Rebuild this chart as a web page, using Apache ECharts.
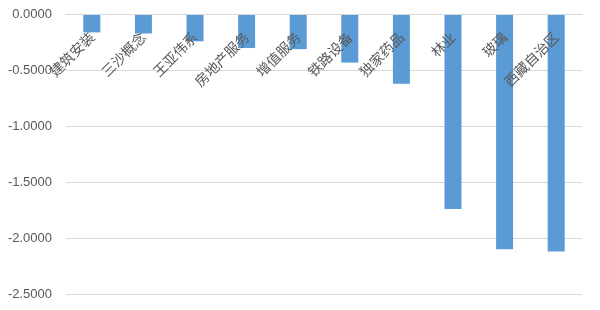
<!DOCTYPE html>
<html><head><meta charset="utf-8">
<script src="https://cdn.jsdelivr.net/npm/echarts@6/dist/echarts.min.js"></script>
<style>html,body{margin:0;padding:0;background:#fff}#c{width:600px;height:310px}</style>
</head><body><div id="c"></div>
<script>
var categories = ['建筑安装','三沙概念','王亚伟系','房地产服务','增值服务','铁路设备','独家药品','林业','玻璃','西藏自治区'];
var values = [-0.16,-0.17,-0.24,-0.30,-0.31,-0.43,-0.62,-1.74,-2.10,-2.12];
var chart = echarts.init(document.getElementById('c'));
chart.setOption({
  animation:false,
  grid:{left:66,right:18,top:14.5,bottom:16,containLabel:false},
  xAxis:{type:'category',data:categories,z:10,position:'top',
    axisLine:{show:true,lineStyle:{color:'#d9d9d9'}},axisTick:{show:false},
    axisLabel:{inside:true,rotate:45,interval:0,margin:20,color:'#595959',fontSize:14,fontFamily:'Noto Sans CJK SC'}},
  yAxis:{type:'value',min:-2.5,max:0,interval:0.5,
    axisLine:{show:false},axisTick:{show:false},
    splitLine:{lineStyle:{color:'#d9d9d9'}},
    axisLabel:{margin:14,color:'#595959',fontSize:13,fontFamily:'Liberation Sans',formatter:function(v){return v.toFixed(4);}}},
  series:[{type:'bar',data:values,barWidth:'33%',itemStyle:{color:'#5B9BD5'}}]
});
</script></body></html>
